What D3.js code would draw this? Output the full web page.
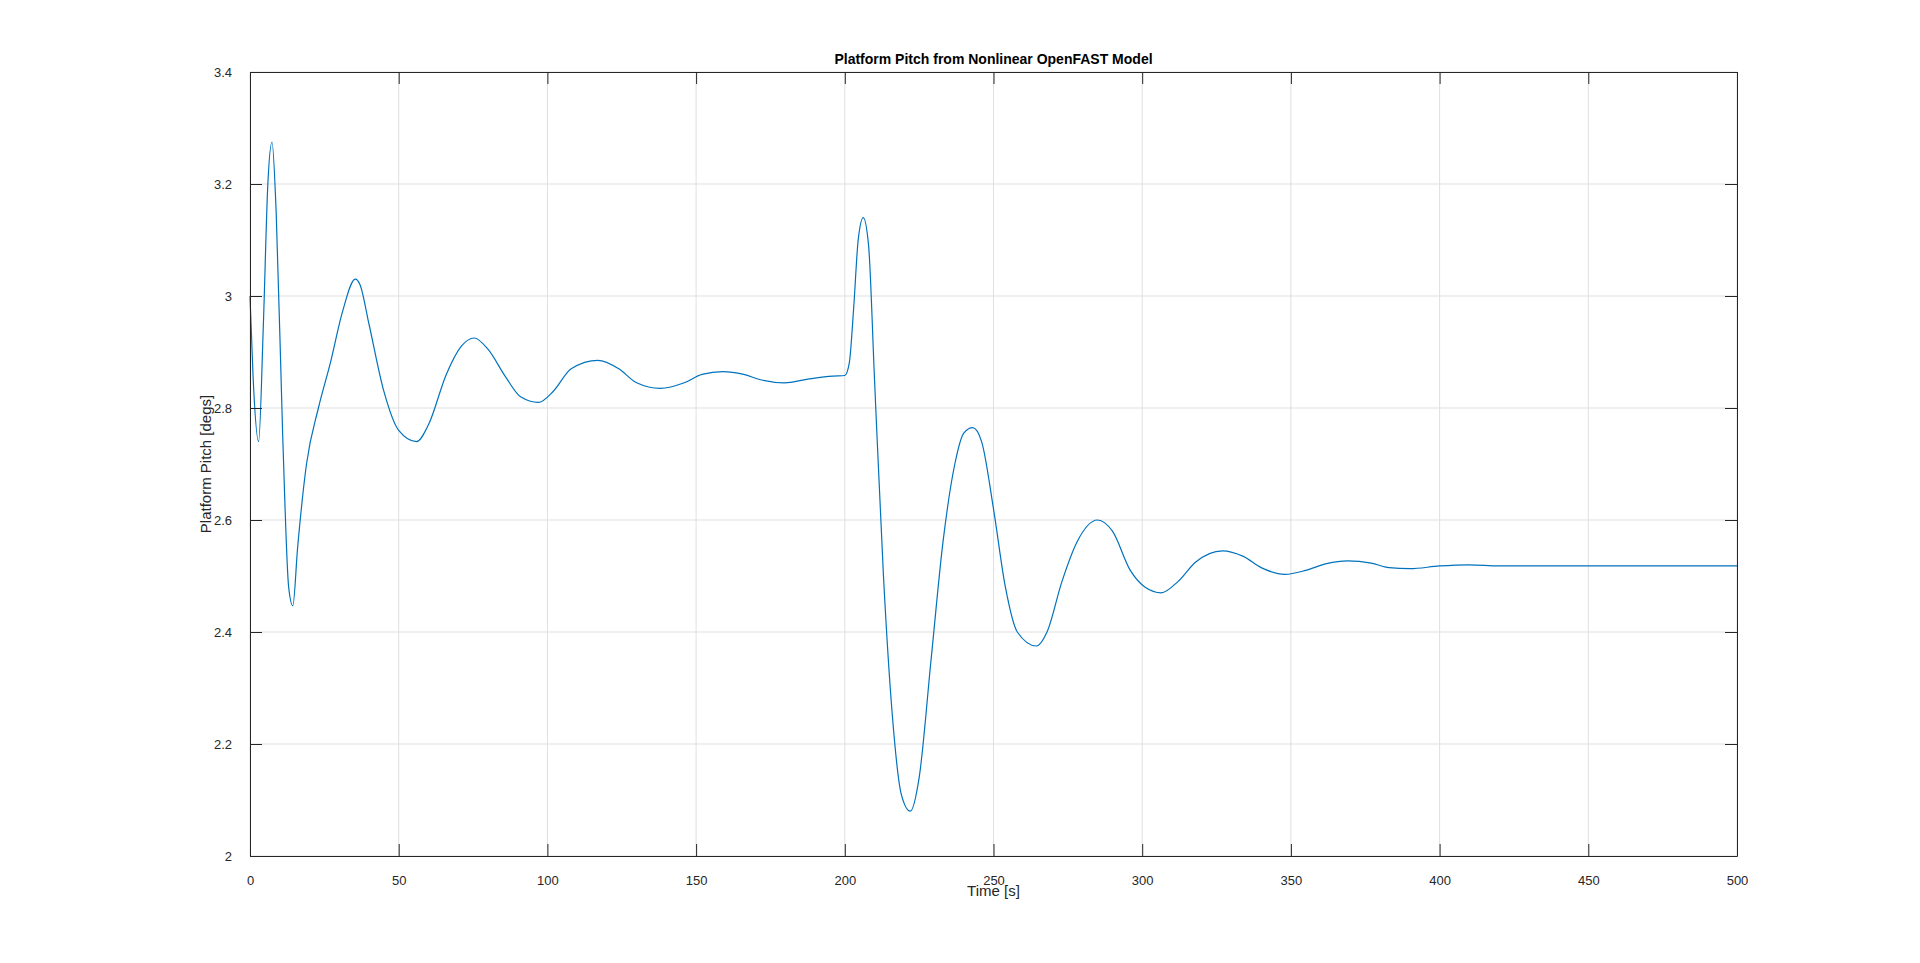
<!DOCTYPE html>
<html><head><meta charset="utf-8">
<script src="https://cdn.jsdelivr.net/npm/d3@7"></script>
<style>body{margin:0;background:#fff}svg{display:block}text{font-family:"Liberation Sans",Arial,sans-serif}</style>
</head><body>
<svg id="c" width="1920" height="963"></svg>
<script>
const time = [0,1,2.9,4.5,6,7.4,8.8,11,13,14.4,16,19,23,27,31,35.4,37,40,45,50,56,60,66,71,75.4,80,86,91,97,102,108,117,124,130,138,146,152,159,166,172,179.6,188,196,200,201.5,203,204.5,206.2,208,210,213,216,219,222,225,229,233,237,240,243,246,250,254,258,264.4,268,273,278,285,290,296,301,306.4,312,318,327,334,340,348,355,362,369,377,383,390,400,410,420,450,500];
const pitch = [3.0,2.86,2.74,2.95,3.2,3.275,3.15,2.75,2.48,2.447,2.55,2.70,2.80,2.88,2.97,3.03,3.02,2.95,2.83,2.76,2.74,2.77,2.86,2.91,2.925,2.905,2.855,2.82,2.81,2.83,2.87,2.885,2.87,2.845,2.835,2.845,2.86,2.865,2.86,2.85,2.845,2.852,2.857,2.858,2.88,2.98,3.1,3.14,3.09,2.85,2.5,2.25,2.11,2.08,2.14,2.35,2.56,2.70,2.755,2.765,2.74,2.62,2.48,2.40,2.375,2.40,2.49,2.56,2.60,2.58,2.51,2.48,2.47,2.49,2.525,2.545,2.535,2.515,2.503,2.51,2.522,2.527,2.523,2.515,2.513,2.518,2.52,2.518,2.518,2.518];
const xTicks = [0,50,100,150,200,250,300,350,400,450,500];
const yTicks = [2,2.2,2.4,2.6,2.8,3,3.2,3.4];

const L=250,R=1737,T=72,B=856;
const svg=d3.select("#c");
const x=d3.scaleLinear().domain([0,500]).range([L,R]);
const y=d3.scaleLinear().domain([2,3.4]).range([B,T]);
const g=svg.append("g");
g.selectAll(".gx").data(xTicks).join("line").attr("x1",d=>x(d)).attr("x2",d=>x(d)).attr("y1",T).attr("y2",B).attr("stroke","#dfdfdf");
g.selectAll(".gy").data(yTicks).join("line").attr("y1",d=>y(d)).attr("y2",d=>y(d)).attr("x1",L).attr("x2",R).attr("stroke","#dfdfdf");
const pts=time.map((t,i)=>[t,pitch[i]]);
g.append("path").datum(pts).attr("fill","none").attr("stroke","#0072BD").attr("stroke-width",1.2)
 .attr("d",d3.line().x(d=>x(d[0])).y(d=>y(d[1])).curve(d3.curveMonotoneX));
const fmt=d=>String(+d.toFixed(1));
const ax=(gen,tr)=>svg.append("g").attr("transform",tr).call(gen);
const styl=s=>{s.select(".domain").attr("stroke","#262626");s.selectAll(".tick line").attr("stroke","#262626");s.selectAll("text").attr("fill","#262626").style("font-size","13px");};
styl(ax(d3.axisBottom(x).tickValues(xTicks).tickSizeInner(-12).tickSizeOuter(0).tickPadding(20).tickFormat(fmt),`translate(0,${B})`));
styl(ax(d3.axisTop(x).tickValues(xTicks).tickSizeInner(-12).tickSizeOuter(0).tickFormat(""),`translate(0,${T})`));
styl(ax(d3.axisLeft(y).tickValues(yTicks).tickSizeInner(-12).tickSizeOuter(0).tickPadding(18).tickFormat(fmt),`translate(${L},0)`));
styl(ax(d3.axisRight(y).tickValues(yTicks).tickSizeInner(-12).tickSizeOuter(0).tickFormat(""),`translate(${R},0)`));
svg.append("text").attr("x",(L+R)/2).attr("y",64).attr("text-anchor","middle").style("font-size","14px").style("font-weight","bold").attr("fill","#000").text("Platform Pitch from Nonlinear OpenFAST Model");
svg.append("text").attr("x",(L+R)/2).attr("y",896).attr("text-anchor","middle").style("font-size","15px").attr("fill","#262626").text("Time [s]");
svg.append("text").attr("transform",`translate(211,${(T+B)/2}) rotate(-90)`).attr("text-anchor","middle").style("font-size","15px").attr("fill","#262626").text("Platform Pitch [degs]");
</script>
</body></html>
